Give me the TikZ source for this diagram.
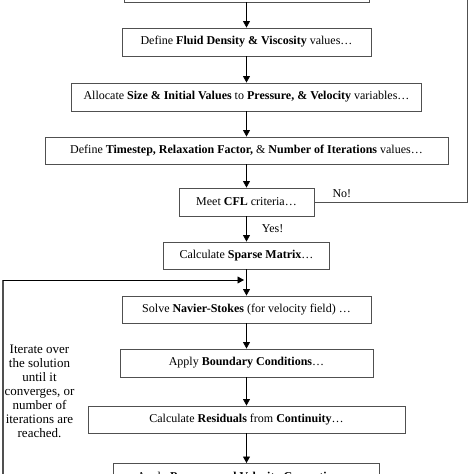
\documentclass[tikz,border=0pt]{standalone}
\usepackage{fontspec}
\setmainfont{Liberation Serif}
\usetikzlibrary{arrows.meta,calc}
\definecolor{boxline}{HTML}{505050}
\tikzset{
  stepbox/.style={draw=boxline,line width=0.9pt,fill=white,inner sep=0pt,
    minimum height=28pt,font=\fontsize{12}{14}\selectfont},
  flow/.style={-{Triangle[length=6.5pt,width=7pt]},line width=0.8pt,black},
  loopline/.style={draw=boxline,line width=1pt},
  lbl/.style={font=\fontsize{12}{14}\selectfont,inner sep=0pt}
}
\begin{document}
\begin{tikzpicture}[x=1pt,y=-1pt]
\useasboundingbox (0,0) rectangle (474,474);
\clip (0,0) rectangle (474,474);
\node[stepbox,minimum width=245pt] (b1) at (246.5,-12) {};
\node[stepbox,minimum width=249pt] (b2) at (246.5,42) {Define \textbf{Fluid Density \& Viscosity} values\dots};
\node[stepbox,minimum width=350pt] (b3) at (246.5,97) {Allocate \textbf{Size \& Initial Values} to \textbf{Pressure, \& Velocity} variables\dots};
\node[stepbox,minimum width=403pt,minimum height=27pt] (b4) at (246.5,150.5) {Define \textbf{Timestep, Relaxation Factor,} \& \textbf{Number of Iterations} values\dots};
\node[stepbox,minimum width=135pt] (b5) at (246.5,202) {Meet \textbf{CFL} criteria\dots};
\node[stepbox,minimum width=166pt,minimum height=27pt] (b6) at (246.5,255.5) {Calculate \textbf{Sparse Matrix}\dots};
\node[stepbox,minimum width=249pt,minimum height=27pt] (b7) at (246.5,309.5) {Solve \textbf{Navier-Stokes} (for velocity field) \dots};
\node[stepbox,minimum width=253pt] (b8) at (246.5,363) {Apply \textbf{Boundary Conditions}\dots};
\node[stepbox,minimum width=317pt,minimum height=27pt] (b9) at (246.5,419.5) {Calculate \textbf{Residuals} from \textbf{Continuity}\dots};
\node[stepbox,minimum width=266pt,anchor=north] (b10) at (246.5,463) {\raisebox{0pt}[0pt][0pt]{\raisebox{-3pt}{Apply \textbf{Pressure and Velocity Corrections}\dots}}};

\draw[flow] (b1) -- (b2);
\draw[flow] (b2) -- (b3);
\draw[flow] (b3) -- (b4);
\draw[flow] (b4) -- (b5);
\draw[flow] (b5) -- node[lbl,right=15pt,pos=0.5] (yes) {Yes!} (b6);
\draw[flow] (b6) -- (b7);
\draw[flow] (b7) -- (b8);
\draw[flow] (b8) -- (b9);
\draw[flow] (b9) -- (b10);

\coordinate (rtop) at (467,-40);
\draw[loopline] (b5.east) -- node[lbl,above=4pt,pos=0.18] (no) {No!} (b5.east -| rtop) -- (rtop);

\coordinate (lbot) at (3,520);
\coordinate (ljoin) at (3,280);
\coordinate (mjoin) at (244,280);
\draw[loopline,line width=1.5pt] (lbot) -- (ljoin);
\draw[flow] (ljoin) -- (mjoin);

\node[align=center,font=\fontsize{13}{14}\selectfont,inner sep=0pt] (iter) at (39.5,391)
  {Iterate over\\the solution\\until it\\converges, or\\number of\\iterations are\\reached.};
\end{tikzpicture}
\end{document}
